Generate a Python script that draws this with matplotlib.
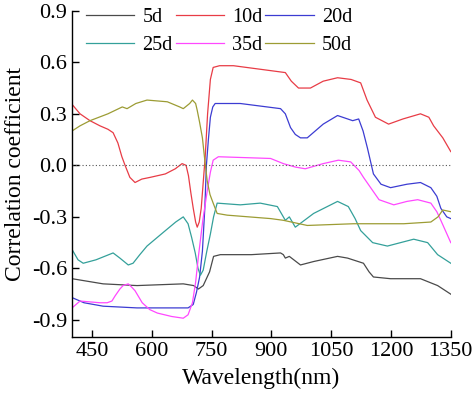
import matplotlib
matplotlib.use("Agg")
import matplotlib.pyplot as plt

plt.rcParams['font.family'] = ['Liberation Serif', 'DejaVu Serif']

# values (wavelength nm, correlation)
wl_5d = [400, 478, 563, 679, 705, 717, 729, 745, 755, 772, 850, 923, 930, 935,
         945, 973, 1006, 1066, 1091, 1131, 1145, 1156, 1199, 1274, 1317, 1350]
r_5d = [-0.66, -0.69, -0.70, -0.69, -0.70, -0.72, -0.70, -0.62, -0.53, -0.52,
        -0.52, -0.51, -0.52, -0.54, -0.53, -0.58, -0.56, -0.53, -0.54, -0.57,
        -0.62, -0.65, -0.66, -0.66, -0.70, -0.75]

wl_10d = [400, 420, 445, 470, 490, 503, 515, 525, 533, 545, 558, 575, 596, 634,
          659, 676, 686, 692, 698, 704, 710, 714, 719, 724, 729, 734, 740, 747,
          754, 770, 805, 870, 935, 950, 968, 998, 1030, 1066, 1100, 1124, 1140,
          1161, 1194, 1230, 1274, 1295, 1307, 1330, 1350]
r_10d = [0.355, 0.30, 0.26, 0.23, 0.21, 0.19, 0.13, 0.05, 0.0, -0.07, -0.10,
         -0.08, -0.07, -0.05, -0.02, 0.01, 0.0, -0.06, -0.16, -0.25, -0.33,
         -0.36, -0.33, -0.25, -0.10, 0.05, 0.30, 0.50, 0.57, 0.58, 0.58, 0.56,
         0.54, 0.49, 0.45, 0.45, 0.49, 0.51, 0.50, 0.48, 0.38, 0.28, 0.24,
         0.27, 0.30, 0.28, 0.23, 0.16, 0.08]

wl_20d = [400, 430, 478, 563, 691, 704, 712, 720, 727, 733, 737, 742, 747, 753,
          759, 822, 923, 935, 948, 960, 973, 990, 1030, 1066, 1104, 1119, 1130,
          1141, 1156, 1175, 1199, 1240, 1274, 1300, 1315, 1325, 1340, 1350]
r_20d = [-0.77, -0.80, -0.82, -0.83, -0.83, -0.81, -0.74, -0.65, -0.50, -0.25,
         0.0, 0.15, 0.28, 0.34, 0.36, 0.36, 0.33, 0.30, 0.22, 0.18, 0.16, 0.16,
         0.24, 0.29, 0.26, 0.27, 0.20, 0.10, -0.05, -0.11, -0.13, -0.11,
         -0.10, -0.13, -0.18, -0.25, -0.30, -0.31]

wl_25d = [400, 415, 428, 460, 503, 520, 541, 553, 570, 588, 629, 660, 679, 691,
          700, 709, 716, 722, 729, 738, 747, 755, 764, 822, 872, 915, 935, 945,
          960, 1006, 1066, 1093, 1110, 1124, 1154, 1191, 1257, 1292, 1317,
          1350]
r_25d = [-0.49, -0.55, -0.57, -0.55, -0.51, -0.54, -0.58, -0.57, -0.52, -0.47,
         -0.39, -0.33, -0.30, -0.34, -0.42, -0.51, -0.60, -0.64, -0.61, -0.50,
         -0.40, -0.30, -0.22, -0.23, -0.22, -0.24, -0.32, -0.30, -0.36, -0.28,
         -0.21, -0.24, -0.31, -0.38, -0.45, -0.47, -0.43, -0.45, -0.52, -0.57]

wl_35d = [400, 420, 470, 488, 500, 508, 520, 528, 541, 550, 558, 576, 595, 614,
          650, 679, 691, 702, 710, 717, 728, 739, 747, 754, 767, 898, 930, 960,
          985, 1030, 1068, 1099, 1120, 1131, 1149, 1170, 1207, 1240, 1267, 1300,
          1315, 1325, 1350]
r_35d = [-0.83, -0.79, -0.80, -0.80, -0.79, -0.76, -0.72, -0.70, -0.69, -0.71,
         -0.73, -0.80, -0.84, -0.86, -0.88, -0.89, -0.87, -0.80, -0.68, -0.53,
         -0.32, -0.15, -0.04, 0.03, 0.05, 0.04, 0.01, -0.01, -0.02, 0.01, 0.03,
         0.02, -0.03, -0.07, -0.13, -0.20, -0.23, -0.21, -0.20, -0.22, -0.27,
         -0.32, -0.45]

wl_50d = [400, 420, 445, 490, 526, 538, 560, 588, 639, 670, 679, 695, 702, 710,
          714, 720, 727, 733, 739, 746, 754, 764, 789, 898, 930, 990, 1106, 1232,
          1300, 1318, 1330, 1350]
r_50d = [0.20, 0.23, 0.26, 0.30, 0.34, 0.33, 0.36, 0.38, 0.37, 0.34, 0.33,
         0.36, 0.38, 0.36, 0.32, 0.25, 0.16, 0.03, -0.09, -0.17, -0.22, -0.28,
         -0.29, -0.31, -0.32, -0.35, -0.34, -0.34, -0.33, -0.30, -0.26, -0.27]

series = [
    ("5d", wl_5d, r_5d, "#4a4a4a"),
    ("10d", wl_10d, r_10d, "#e83c46"),
    ("20d", wl_20d, r_20d, "#3c3cd2"),
    ("25d", wl_25d, r_25d, "#34a09a"),
    ("35d", wl_35d, r_35d, "#ff48ff"),
    ("50d", wl_50d, r_50d, "#9c9c34"),
]

fig = plt.figure(figsize=(4.74, 3.98), dpi=100)
ax = fig.add_axes([0.152, 0.153, 0.799, 0.82])

lines = {}
for name, x, y, c in series:
    lines[name], = ax.plot(x, y, color=c, lw=0.9, label=name)

ax.axhline(0, color="#555555", lw=0.8, ls=(0, (1, 2)))

ax.set_xlim(400, 1350)
ax.set_ylim(-1.0, 0.9)
ax.set_xticks([450, 600, 750, 900, 1050, 1200, 1350])
ax.set_yticks([0.9, 0.6, 0.3, 0.0, -0.3, -0.6, -0.9])
ax.set_yticklabels(["0.9", "0.6", "0.3", "0.0", "-0.3", "-0.6", "-0.9"])
ax.tick_params(direction="in", length=5, width=1, labelsize=16)
ax.spines["top"].set_visible(False)
ax.spines["right"].set_visible(False)
for s in ("left", "bottom"):
    ax.spines[s].set_linewidth(1)

ax.set_xlabel("Wavelength(nm)", fontsize=17, labelpad=5)
ax.set_ylabel("Correlation coefficient", fontsize=17, labelpad=4)

# legend fills column-wise, so order for row-wise look
order = ["5d", "25d", "10d", "35d", "20d", "50d"]
ax.legend([lines[n] for n in order], order, ncol=3, frameon=False,
          fontsize=14.5, loc="upper left", bbox_to_anchor=(0.005, 1.045),
          handlelength=2.4, handletextpad=0.4, columnspacing=0.15,
          labelspacing=0.45, borderaxespad=0.2)

fig.savefig("out.png", dpi=100)
